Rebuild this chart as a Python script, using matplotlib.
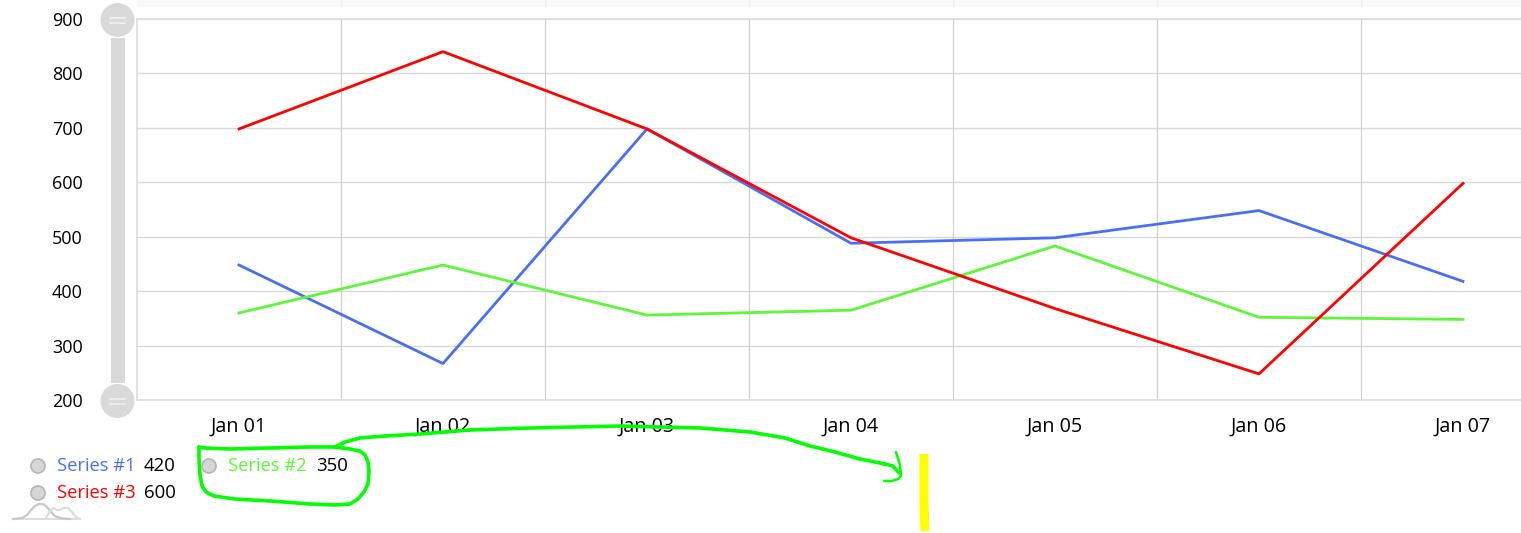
import matplotlib
matplotlib.use("Agg")
import matplotlib.pyplot as plt
from matplotlib.patches import Circle, Rectangle

plt.rcParams['font.family'] = ['Open Sans', 'DejaVu Sans']

dias = ['Jan 01', 'Jan 02', 'Jan 03', 'Jan 04', 'Jan 05', 'Jan 06', 'Jan 07']
serie1 = [448, 267, 698, 488, 498, 548, 418]
serie2 = [360, 448, 356, 365, 483, 352, 348]
serie3 = [698, 840, 698, 498, 368, 248, 598]
yticks = [200, 300, 400, 500, 600, 700, 800, 900]

azul = '#4a6ff5'
verde = '#5ff53c'
vermelho = '#ff0000'
cinza = '#d9d9d9'

W, H = 1521, 533
fig = plt.figure(figsize=(W/100, H/100), dpi=100)

# area do grafico, em pixels da imagem
x0, x1, ytop, ybot = 137, 1521, 19, 400
ax = fig.add_axes([x0/W, 1-ybot/H, (x1-x0)/W, (ybot-ytop)/H])
passo = 204
ax.set_xlim(-0.5, -0.5 + (x1-x0)/passo)
ax.set_ylim(200, 900)

ax.plot(serie1, color=azul, lw=2, zorder=3)
ax.plot(serie2, color=verde, lw=2, zorder=3)
ax.plot(serie3, color=vermelho, lw=2, zorder=4)

ax.set_yticks(yticks)
ax.set_xticks(range(len(dias)))
ax.set_xticklabels(dias, fontsize=14.2, color='black')
ax.tick_params(axis='y', length=0, labelsize=13, pad=39)
ax.tick_params(axis='x', length=0, pad=12)
ax.set_axisbelow(True)
ax.grid(axis='y', color='#d8d8d8', lw=1)
for i in range(len(dias)-1):
    ax.axvline(i+0.5, color='#d0d0d0', lw=0.9, zorder=1)
ax.spines['right'].set_visible(False)
for s in ['left', 'top', 'bottom']:
    ax.spines[s].set_color('#dddddd')
    ax.spines[s].set_linewidth(1.2)

# camada por cima, em pixels, para o slider, a legenda e os rabiscos
ov = fig.add_axes([0, 0, 1, 1], zorder=10)
ov.set_xlim(0, W)
ov.set_ylim(H, 0)
ov.axis('off')
ov.patch.set_alpha(0)

# faixa clara no topo
ov.add_patch(Rectangle((137, 0), 1384, 6.5, color='#f9f9f9', lw=0))
for gx in [341, 545, 749, 953, 1157, 1361]:
    ov.plot([gx, gx], [0, 6.5], color='#eeeeee', lw=1)

# slider vertical
ov.add_patch(Rectangle((111, 38), 13.5, 345, color=cinza, lw=0))
for cy in [20, 401]:
    ov.add_patch(Circle((117.5, cy), 17, color=cinza, lw=0))
    ov.plot([110, 125], [cy-2.5, cy-2.5], color='#f0f0f0', lw=1.2)
    ov.plot([110, 125], [cy+2.5, cy+2.5], color='#f0f0f0', lw=1.2)

# legenda
legenda = [(38, 466, 'Series #1', azul, '420', 57, 144),
           (209, 466, 'Series #2', verde, '350', 228, 316),
           (38, 493, 'Series #3', vermelho, '600', 57, 144)]
for mx, my, nome, cor, valor, tx, vx in legenda:
    ov.add_patch(Circle((mx, my), 7, facecolor='#d6d6d6', edgecolor='#b5b5b5', lw=1.2))
    ov.text(tx, my, nome, color=cor, fontsize=13.2, va='center', ha='left')
    ov.text(vx, my, valor, color='black', fontsize=13.4, va='center', ha='left')

# icone pequeno
ov.plot([13, 80], [519, 519], color='#dddddd', lw=1.5)
ov.plot([13, 22, 27, 31, 35, 39, 43, 47, 51, 55, 60, 70],
        [519, 518, 515, 510, 506, 504, 504, 507, 512, 516, 518, 519], color='#c8c8c8', lw=1.6)
ov.plot([46, 50, 54, 57, 60, 64, 68, 72, 76, 80],
        [518, 511, 508, 510, 510, 508, 508, 512, 517, 519], color='#dddddd', lw=1.6)

# rabiscos a mao
laco_x = [199, 199, 200, 202, 206, 214, 235, 270, 310, 335, 350, 358, 364, 368, 369, 368, 365, 360, 350, 335, 310, 270, 230, 205, 199]
laco_y = [447, 460, 475, 486, 492, 496, 499, 501, 504, 505, 504, 499, 492, 484, 472, 462, 455, 451, 449, 447, 447, 448, 449, 448, 447]
seta_x = [335, 345, 360, 385, 420, 470, 530, 620, 700, 750, 785, 810, 835, 860, 880, 893, 899]
seta_y = [447, 442, 438, 436, 434, 430, 428, 426, 428, 432, 438, 446, 452, 459, 463, 466, 473]
ponta_x = [884, 892, 898, 901, 900, 896]
ponta_y = [481, 481, 479, 476, 465, 452]
ov.plot(laco_x, laco_y, color='#00ff00', lw=2.6, solid_capstyle='round', solid_joinstyle='round')
ov.plot(seta_x, seta_y, color='#00ff00', lw=2.6, solid_capstyle='round', solid_joinstyle='round')
ov.plot(ponta_x, ponta_y, color='#00ff00', lw=1.8, solid_capstyle='round', solid_joinstyle='round')

ov.plot([924, 924, 925], [454, 505, 531], color='#ffff00', lw=6.5, solid_capstyle='butt')

fig.savefig('out.png', dpi=100)
